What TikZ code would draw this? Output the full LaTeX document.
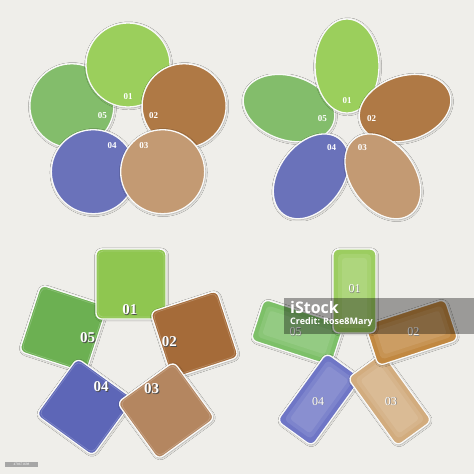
\documentclass[tikz,border=0pt]{standalone}
\usepackage{fontspec}
\setmainfont{Liberation Serif}
\newfontfamily\wmfont{Open Sans}
\usetikzlibrary{shadows.blur,calc}
\definecolor{bg}{HTML}{EFEEEA}
% quadrant 1 and 2
\definecolor{qa}{HTML}{9BCF5C}
\definecolor{qb}{HTML}{AF7945}
\definecolor{qc}{HTML}{C39A73}
\definecolor{qd}{HTML}{6A72BA}
\definecolor{qe}{HTML}{83BD6B}
% quadrant 3
\definecolor{sa}{HTML}{8FC650}
\definecolor{sb}{HTML}{A56B39}
\definecolor{sc}{HTML}{B48660}
\definecolor{sd}{HTML}{5D66B7}
\definecolor{se}{HTML}{6CB052}
% quadrant 4
\definecolor{ra}{HTML}{9CCD60}
\definecolor{rb}{HTML}{C18841}
\definecolor{rc}{HTML}{D2AC7E}
\definecolor{rd}{HTML}{6F76C6}
\definecolor{re}{HTML}{7DC068}
\tikzset{
  petal/.style={draw=white!70!bg, line width=1.3pt,
    blur shadow={shadow xshift=0.6pt, shadow yshift=-0.8pt, shadow blur radius=2pt, shadow opacity=35}},
  lblsmall/.style={text=white, font=\bfseries\fontsize{9}{9}\selectfont, inner sep=0pt},
  lblbig/.style={text=white, font=\bfseries\fontsize{15}{15}\selectfont, inner sep=0pt},
  lblbigsh/.style={text=black!70, font=\bfseries\fontsize{15}{15}\selectfont, inner sep=0pt},
  lblrect/.style={text=white, font=\fontsize{12}{12}\selectfont, inner sep=0pt},
  lblrectsh/.style={text=black!50, font=\fontsize{12}{12}\selectfont, inner sep=0pt},
}
\begin{document}
\begin{tikzpicture}[x=1pt,y=1pt]
\fill[bg] (0,0) rectangle (474,474);
\useasboundingbox (0,0) rectangle (474,474);

% ---------- Quadrant 1: circles ----------
\begin{scope}[shift={(128,350)}]
  \foreach \a/\c in {162/qe, 90/qa, -126/qd, 18/qb, -54/qc}
    \filldraw[petal, fill=\c] (\a:59) circle[radius=42];
  \foreach \a/\t in {90/01, 18/02, -54/03, -126/04, 162/05}
    \node[lblsmall] (c\t) at (\a:27) {\t};
\end{scope}

% ---------- Quadrant 2: ellipses ----------
\begin{scope}[shift={(347,347)}]
  \foreach \a/\c in {162/qe, 90/qa, -126/qd, 18/qb, -54/qc}
    \filldraw[petal, fill=\c, rotate=\a] (61,0) ellipse[x radius=47, y radius=32];
  \foreach \a/\t in {90/01, 18/02, -54/03, -126/04, 162/05}
    \node[lblsmall] (e\t) at (\a:26) {\t};
\end{scope}

% ---------- Quadrant 3: rounded squares ----------
\begin{scope}[shift={(128,121)}]
  \foreach \a/\c in {162/se, 90/sa, -126/sd, 18/sb, -54/sc}{
    \begin{scope}[shift={(\a-2.5:69)}, rotate=\a]
      \filldraw[petal, fill=\c, rounded corners=6] (-35,-35) rectangle (35,35);
      \draw[\c!80!white, line width=0.7pt, rounded corners=5] (-33,-33) rectangle (33,33);
    \end{scope}
  }
  \foreach \a/\t in {90/01, 18/02, -54/03, -126/04, 162/05}{
    \node[lblbigsh] at ($(\a-2.5:43)+(0.8,-0.8)$) {\t};
    \node[lblbig] (s\t) at (\a-2.5:43) {\t};
  }
\end{scope}

% ---------- Quadrant 4: rounded rectangles ----------
\begin{scope}[shift={(354.5,123)}]
  \foreach \a/\c in {162/re, -126/rd, -54/rc, 18/rb, 90/ra}{
    \filldraw[petal, fill=\c, rotate=\a, rounded corners=6] (18,-21.5) rectangle (102,21.5);
    \fill[\c!90!white, rotate=\a, rounded corners=4] (23,-16.5) rectangle (97,16.5);
    \fill[\c!82!white, rotate=\a, rounded corners=3] (27,-12.5) rectangle (93,12.5);
  }
  \foreach \a/\t in {90/01, 18/02, -54/03, -126/04, 162/05}{
    \node[lblrectsh] at ($(\a:62)+(0.6,-0.6)$) {\t};
    \node[lblrect] (r\t) at (\a:62) {\t};
  }
\end{scope}

% ---------- watermark ----------
\fill[black, opacity=0.35] (284,140) rectangle (474,176);
\node[anchor=base west, text=white, inner sep=0pt, font=\wmfont\bfseries\fontsize{16}{16}\selectfont] (wm1) at (290,160) {iStock};
\node[anchor=base west, text=white, inner sep=0pt, font=\wmfont\bfseries\fontsize{9}{9}\selectfont] (wm2) at (290,149.5) {Credit: Rose8Mary};

% ---------- id stamp ----------
\fill[black!35] (5,6.5) rectangle (38,12);
\node[text=white, inner sep=0pt, font=\fontsize{3.5}{3.5}\selectfont] (idn) at (21.5,9.2) {478671698};
\end{tikzpicture}
\end{document}
